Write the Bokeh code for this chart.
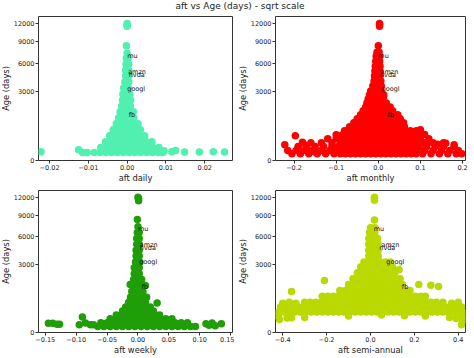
import numpy as np
from bokeh.plotting import figure
from bokeh.layouts import column, row
from bokeh.models import Range1d, FixedTicker, Label, CustomJSTickFormatter
from bokeh.embed import file_html
from bokeh.resources import INLINE
from bokeh.core.properties import value

FONT = "DejaVu Sans"
title_text = "aft vs Age (days) - sqrt scale"
age_ticks = [0, 3000, 6000, 9000, 12000]

tickers = ["mu", "amzn", "nvda", "googl", "fb"]
label_age = [7000, 5050, 4720, 3300, 1340]
daily_label_aft = [0.0, 0.00025, 0.0004, 0.0, 0.0004]
monthly_label_aft = [0.0, 0.005, 0.004, 0.008, 0.022]
weekly_label_aft = [0.0, 0.003, 0.003, 0.002, 0.006]
semi_label_aft = [0.015, 0.05, 0.04, 0.072, 0.143]

# (aft, age in days)
daily_points = [
    (-0.0085, 40), (-0.0070, 40), (-0.0055, 40), (-0.0040, 40), (-0.0025, 40), (-0.0010, 40), (0.0005, 40),
    (0.0020, 40), (0.0035, 40), (0.0050, 40), (0.0065, 40), (0.0080, 40), (0.0092, 40),
    (-0.0068, 106), (-0.0053, 106), (-0.0038, 106), (-0.0023, 106), (-0.0008, 106), (0.0007, 106),
    (0.0022, 106), (0.0037, 106), (0.0052, 106), (0.0067, 106), (0.0082, 106),
    (-0.0056, 227), (-0.0041, 227), (-0.0026, 227), (-0.0011, 227), (0.0004, 227), (0.0019, 227),
    (0.0034, 227), (0.0049, 227), (0.0064, 227),
    (-0.0045, 394), (-0.0030, 394), (-0.0015, 394), (0.0000, 394), (0.0015, 394), (0.0030, 394), (0.0045, 394),
    (-0.0036, 606), (-0.0022, 606), (-0.0008, 606), (0.0006, 606), (0.0020, 606), (0.0034, 606),
    (-0.0028, 863), (-0.0014, 863), (0.0000, 863), (0.0014, 863), (0.0028, 863),
    (-0.0022, 1165), (-0.0009, 1165), (0.0004, 1165), (0.0017, 1165),
    (-0.0018, 1513), (-0.0006, 1513), (0.0006, 1513), (0.0016, 1513),
    (-0.0014, 1906), (-0.0003, 1906), (0.0008, 1906),
    (-0.0012, 2345), (-0.0001, 2345), (0.0009, 2345),
    (-0.0011, 2828), (0.0000, 2828), (0.0007, 2828),
    (-0.0009, 3358), (0.0003, 3358),
    (-0.0006, 3932), (0.0004, 3932),
    (-0.0004, 4553), (0.0004, 4553),
    (-0.0004, 5218), (0.0004, 5218),
    (-0.0003, 5930), (0.0004, 5930),
    (-0.0002, 6684), (0.0003, 6684),
    (0.0000, 7350),
    (-0.0002, 8400), (0.0, 11500), (0.0, 11800), (0.0, 12000),
    (-0.0222, 50), (-0.0125, 75), (-0.0115, 40), (-0.0103, 40), (0.0095, 60), (0.0115, 50),
    (0.0125, 65), (0.0148, 45), (0.0186, 45), (0.0222, 50), (0.0251, 45),
]

monthly_points = [
    (-0.205, 30), (-0.185, 30), (-0.165, 30), (-0.145, 30), (-0.125, 30), (-0.105, 30), (-0.09, 30),
    (-0.078, 30), (-0.066, 30), (-0.054, 30), (-0.042, 30), (-0.030, 30), (-0.018, 30), (-0.006, 30),
    (0.006, 30), (0.018, 30), (0.030, 30), (0.042, 30), (0.054, 30), (0.066, 30), (0.078, 30), (0.09, 30),
    (0.105, 30), (0.125, 30), (0.145, 30), (0.165, 30), (0.185, 30), (0.198, 30),
    (-0.215, 63), (-0.195, 63), (-0.175, 63), (-0.155, 63), (-0.135, 63), (-0.115, 63), (-0.1, 63),
    (-0.088, 63), (-0.076, 63), (-0.064, 63), (-0.052, 63), (-0.040, 63), (-0.028, 63), (-0.016, 63),
    (-0.004, 63), (0.008, 63), (0.020, 63), (0.032, 63), (0.044, 63), (0.056, 63), (0.068, 63),
    (0.080, 63), (0.092, 63), (0.11, 63), (0.13, 63), (0.15, 63), (0.17, 63), (0.19, 63),
    (-0.19, 124), (-0.17, 124), (-0.15, 124), (-0.13, 124), (-0.11, 124), (-0.095, 124), (-0.083, 124),
    (-0.071, 124), (-0.059, 124), (-0.047, 124), (-0.035, 124), (-0.023, 124), (-0.011, 124), (0.001, 124),
    (0.013, 124), (0.025, 124), (0.037, 124), (0.049, 124), (0.061, 124), (0.073, 124), (0.085, 124),
    (0.097, 124), (0.115, 124), (0.135, 124), (0.155, 124), (0.18, 124),
    (-0.16, 204), (-0.135, 204), (-0.11, 204), (-0.09, 204), (-0.077, 204), (-0.064, 204), (-0.051, 204),
    (-0.038, 204), (-0.025, 204), (-0.012, 204), (0.001, 204), (0.014, 204), (0.027, 204), (0.040, 204),
    (0.053, 204), (0.066, 204), (0.079, 204), (0.092, 204), (0.11, 204), (0.13, 204), (0.155, 204),
    (-0.12, 305), (-0.1, 305), (-0.085, 305), (-0.072, 305), (-0.059, 305), (-0.046, 305), (-0.033, 305),
    (-0.020, 305), (-0.007, 305), (0.006, 305), (0.019, 305), (0.032, 305), (0.045, 305), (0.058, 305),
    (0.071, 305), (0.084, 305), (0.1, 305), (0.12, 305),
    (-0.1, 426), (-0.085, 426), (-0.072, 426), (-0.059, 426), (-0.046, 426), (-0.033, 426), (-0.020, 426),
    (-0.007, 426), (0.006, 426), (0.019, 426), (0.032, 426), (0.045, 426), (0.058, 426), (0.071, 426),
    (0.085, 426), (0.1, 426),
    (-0.08, 567), (-0.067, 567), (-0.054, 567), (-0.041, 567), (-0.028, 567), (-0.015, 567), (-0.002, 567),
    (0.011, 567), (0.024, 567), (0.037, 567), (0.050, 567), (0.063, 567), (0.076, 567), (0.09, 567),
    (-0.068, 729), (-0.055, 729), (-0.042, 729), (-0.029, 729), (-0.016, 729), (-0.003, 729), (0.010, 729),
    (0.023, 729), (0.036, 729), (0.049, 729), (0.062, 729),
    (-0.058, 910), (-0.045, 910), (-0.032, 910), (-0.019, 910), (-0.006, 910), (0.007, 910), (0.020, 910),
    (0.033, 910), (0.046, 910), (0.06, 910),
    (-0.05, 1111), (-0.037, 1111), (-0.024, 1111), (-0.011, 1111), (0.002, 1111), (0.015, 1111),
    (0.028, 1111), (0.041, 1111), (0.052, 1111),
    (-0.042, 1333), (-0.029, 1333), (-0.016, 1333), (-0.003, 1333), (0.010, 1333), (0.023, 1333),
    (0.036, 1333), (0.046, 1333),
    (-0.036, 1575), (-0.024, 1575), (-0.012, 1575), (0.0, 1575), (0.012, 1575), (0.024, 1575), (0.034, 1575),
    (-0.03, 1837), (-0.018, 1837), (-0.006, 1837), (0.006, 1837), (0.018, 1837), (0.028, 1837),
    (-0.027, 2120), (-0.015, 2120), (-0.003, 2120), (0.009, 2120), (0.019, 2120),
    (-0.024, 2422), (-0.012, 2422), (0.0, 2422), (0.012, 2422),
    (-0.021, 2745), (-0.009, 2745), (0.003, 2745), (0.013, 2745),
    (-0.018, 3088), (-0.006, 3088), (0.006, 3088),
    (-0.013, 3544), (-0.002, 3544), (0.007, 3544),
    (-0.01, 4033), (0.0, 4033), (0.006, 4033),
    (-0.009, 4553), (0.004, 4553),
    (-0.008, 5104), (0.004, 5104),
    (-0.007, 5687), (0.004, 5687),
    (-0.006, 6301), (0.003, 6301),
    (-0.005, 6947), (0.003, 6947),
    (-0.003, 7490), (0.002, 7490),
    (0.0, 8400), (0.003, 11500), (0.003, 11800), (0.003, 12000),
    (-0.222, 160), (-0.197, 390), (-0.19, 120), (-0.18, 210), (-0.172, 150), (-0.165, 60), (-0.15, 45),
    (0.18, 160), (0.16, 190), (0.14, 170), (0.12, 220), (0.1, 600), (0.11, 430),
]

weekly_points = [
    (-0.065, 23), (-0.055, 23), (-0.045, 23), (-0.035, 23), (-0.025, 23), (-0.015, 23), (-0.005, 23),
    (0.005, 23), (0.015, 23), (0.025, 23), (0.035, 23), (0.045, 23), (0.055, 23), (0.065, 23),
    (0.075, 23), (0.085, 23), (0.093, 23),
    (-0.06, 63), (-0.05, 63), (-0.04, 63), (-0.03, 63), (-0.02, 63), (-0.01, 63), (0.0, 63), (0.01, 63),
    (0.02, 63), (0.03, 63), (0.04, 63), (0.05, 63), (0.06, 63), (0.07, 63), (0.08, 63),
    (-0.045, 124), (-0.035, 124), (-0.025, 124), (-0.015, 124), (-0.005, 124), (0.005, 124),
    (0.015, 124), (0.025, 124), (0.035, 124), (0.045, 124), (0.055, 124),
    (-0.035, 204), (-0.025, 204), (-0.015, 204), (-0.005, 204), (0.005, 204), (0.015, 204),
    (0.025, 204), (0.035, 204),
    (-0.025, 305), (-0.015, 305), (-0.005, 305), (0.005, 305), (0.015, 305), (0.025, 305),
    (-0.02, 426), (-0.01, 426), (0.0, 426), (0.01, 426), (0.02, 426),
    (-0.015, 606), (-0.006, 606), (0.003, 606), (0.012, 606),
    (-0.012, 817), (-0.003, 817), (0.006, 817), (0.014, 817),
    (-0.01, 1111), (-0.001, 1111), (0.008, 1111),
    (-0.008, 1452), (0.0, 1452), (0.008, 1452),
    (-0.007, 1837), (0.001, 1837), (0.006, 1837),
    (-0.006, 2268), (0.002, 2268),
    (-0.006, 2745), (0.002, 2745),
    (-0.004, 3266), (0.003, 3266),
    (-0.003, 3834), (0.002, 3834),
    (-0.003, 4446), (0.002, 4446),
    (-0.002, 5104), (0.002, 5104),
    (-0.002, 5807), (0.002, 5807),
    (-0.001, 6556), (0.002, 6556),
    (0.0, 7350),
    (-0.001, 8400), (0.001, 11400), (0.001, 11800), (0.0, 12000),
    (-0.145, 55), (-0.138, 55), (-0.131, 45), (-0.127, 45), (-0.095, 40), (-0.09, 160), (-0.085, 60),
    (-0.077, 40), (-0.072, 40), (0.11, 50), (0.115, 35), (0.12, 60), (0.125, 30), (0.135, 50),
    (-0.0126, 1513), (0.031, 570), (0.012, 1450), (0.009, 1400),
]

semi_points = [
    (-0.42, 278), (-0.395, 278), (-0.37, 278), (-0.345, 278), (-0.32, 278), (-0.295, 278), (-0.27, 278),
    (-0.245, 278), (-0.22, 278), (-0.195, 278), (-0.17, 278), (-0.145, 278), (-0.12, 278), (-0.095, 278),
    (-0.07, 278), (-0.045, 278), (-0.02, 278), (0.005, 278), (0.03, 278), (0.055, 278), (0.08, 278),
    (0.105, 278), (0.13, 278), (0.155, 278), (0.18, 278), (0.205, 278), (0.23, 278), (0.255, 278),
    (0.28, 278), (0.305, 278), (0.33, 278), (0.355, 278), (0.38, 278), (0.405, 278), (0.42, 278),
    (-0.41, 426), (-0.385, 426), (-0.36, 426), (-0.335, 426), (-0.31, 426), (-0.285, 426), (-0.26, 426),
    (-0.235, 426), (-0.21, 426), (-0.185, 426), (-0.16, 426), (-0.135, 426), (-0.11, 426), (-0.085, 426),
    (-0.06, 426), (-0.035, 426), (-0.01, 426), (0.015, 426), (0.04, 426), (0.065, 426), (0.09, 426),
    (0.115, 426), (0.14, 426), (0.165, 426), (0.19, 426), (0.215, 426), (0.24, 426), (0.265, 426),
    (0.29, 426), (0.315, 426), (0.34, 426), (0.365, 426), (0.39, 426), (0.415, 426),
    (-0.42, 165), (-0.415, 110), (-0.38, 140), (-0.36, 142), (-0.30, 150), (-0.10, 180), (0.05, 200),
    (0.155, 182), (0.25, 180), (0.36, 150), (0.39, 130), (0.42, 165), (0.42, 90), (0.415, 40),
    (-0.40, 560), (-0.37, 600), (-0.34, 560), (0.37, 560), (0.40, 600),
    (-0.30, 606), (-0.275, 606), (-0.25, 606), (-0.225, 606), (-0.2, 606), (-0.175, 606), (-0.15, 606),
    (-0.125, 606), (-0.1, 606), (-0.075, 606), (-0.05, 606), (-0.025, 606), (0.0, 606), (0.025, 606),
    (0.05, 606), (0.075, 606), (0.1, 606), (0.125, 606), (0.15, 606), (0.175, 606), (0.2, 606),
    (0.225, 606), (0.25, 606), (0.275, 606), (0.3, 606), (0.33, 606),
    (-0.22, 862), (-0.195, 862), (-0.17, 862), (-0.145, 862), (-0.12, 862), (-0.095, 862), (-0.07, 862),
    (-0.045, 862), (-0.02, 862), (0.005, 862), (0.03, 862), (0.055, 862), (0.08, 862), (0.105, 862),
    (0.13, 862), (0.155, 862), (0.18, 862), (0.205, 862), (0.23, 862), (0.25, 862),
    (-0.14, 1165), (-0.115, 1165), (-0.09, 1165), (-0.065, 1165), (-0.04, 1165), (-0.015, 1165),
    (0.01, 1165), (0.035, 1165), (0.06, 1165), (0.085, 1165), (0.11, 1165), (0.135, 1165), (0.16, 1165),
    (0.18, 1165),
    (-0.10, 1513), (-0.075, 1513), (-0.05, 1513), (-0.025, 1513), (0.0, 1513), (0.025, 1513),
    (0.05, 1513), (0.075, 1513), (0.1, 1513), (0.125, 1513), (0.145, 1513),
    (-0.08, 1906), (-0.055, 1906), (-0.03, 1906), (-0.005, 1906), (0.02, 1906), (0.045, 1906),
    (0.07, 1906), (0.095, 1906), (0.12, 1906), (0.135, 1906),
    (-0.06, 2345), (-0.035, 2345), (-0.01, 2345), (0.015, 2345), (0.04, 2345), (0.065, 2345),
    (0.09, 2345), (0.11, 2345),
    (-0.045, 2828), (-0.02, 2828), (0.005, 2828), (0.03, 2828), (0.055, 2828), (0.08, 2828), (0.10, 2828),
    (-0.03, 3266), (-0.005, 3266), (0.02, 3266), (0.045, 3266), (0.07, 3266), (0.09, 3266),
    (-0.008, 3834), (0.015, 3834), (0.035, 3834),
    (-0.008, 4446), (0.015, 4446), (0.035, 4446),
    (-0.008, 5104), (0.015, 5104), (0.035, 5104),
    (-0.008, 5807), (0.012, 5807), (0.032, 5807),
    (-0.004, 6556), (0.02, 6556),
    (0.0, 7206), (0.02, 7206),
    (0.018, 8300), (0.018, 11500), (0.018, 11800), (0.018, 12000),
    (-0.36, 1110), (-0.21, 1770), (0.13, 2580), (0.22, 1513), (0.275, 1470), (0.31, 1390),
]

panels = [
    dict(points=daily_points, color="#50f0b0", xlabel="aft daily", xticks=[-0.02, -0.01, 0.0, 0.01, 0.02],
         digits=2, xr=(-0.02285, 0.02715), label_x=daily_label_aft),
    dict(points=monthly_points, color="#ff0000", xlabel="aft monthly", xticks=[-0.2, -0.1, 0.0, 0.1, 0.2],
         digits=1, xr=(-0.244, 0.207), label_x=monthly_label_aft),
    dict(points=weekly_points, color="#1f9e08", xlabel="aft weekly",
         xticks=[-0.15, -0.10, -0.05, 0.0, 0.05, 0.10, 0.15], digits=2, xr=(-0.161, 0.153),
         label_x=weekly_label_aft),
    dict(points=semi_points, color="#b9d900", xlabel="aft semi-annual", xticks=[-0.4, -0.2, 0.0, 0.2, 0.4],
         digits=1, xr=(-0.433, 0.433), label_x=semi_label_aft),
]

# layout: (width, height, border left, right, top, bottom)
geom = [
    (237, 174, 37, 2, 5, 24),
    (237, 174, 37, 6, 5, 24),
    (237, 172, 36, 2, 5, 23),
    (237, 172, 37, 6, 5, 23),
]


def make_panel(cfg, g):
    w, h, bl, br, bt, bb = g
    xs = np.array([pt[0] for pt in cfg["points"]])
    ages = np.array([pt[1] for pt in cfg["points"]], dtype=float)
    p = figure(width=w, height=h, output_backend="svg", toolbar_location=None,
               x_range=Range1d(*cfg["xr"]), y_range=Range1d(0, 115.1),
               min_border_left=bl, min_border_right=br, min_border_top=bt, min_border_bottom=bb)
    p.scatter(xs, np.sqrt(ages), size=7.5, fill_color=cfg["color"], line_color=None)
    p.text(x=cfg["label_x"], y=np.sqrt(np.array(label_age, dtype=float)), text=tickers,
           text_font=value(FONT), text_font_size="6.5px", text_color="#111111",
           text_align="left", text_baseline="alphabetic")
    p.grid.visible = False
    p.outline_line_color = "#333333"
    p.outline_line_width = 1
    p.background_fill_color = "white"
    p.xaxis.ticker = FixedTicker(ticks=cfg["xticks"])
    p.xaxis.formatter = CustomJSTickFormatter(
        args=dict(d=cfg["digits"]),
        code="return (tick < -1e-12 ? '\u2212' : '') + Math.abs(tick).toFixed(d);")
    p.yaxis.ticker = FixedTicker(ticks=[float(np.sqrt(a)) for a in age_ticks])
    p.yaxis.formatter = CustomJSTickFormatter(code="return String(Math.round(tick * tick));")
    p.xaxis.axis_label = cfg["xlabel"]
    p.yaxis.axis_label = "Age (days)"
    for ax in (p.xaxis[0], p.yaxis[0]):
        ax.axis_line_color = None
        ax.major_tick_line_color = "#333333"
        ax.major_tick_out = 3
        ax.major_tick_in = 0
        ax.minor_tick_line_color = None
        ax.major_label_text_font = FONT
        ax.major_label_text_font_size = "6.5px"
        ax.major_label_text_color = "#222222"
        ax.major_label_standoff = 1
        ax.axis_label_text_font = FONT
        ax.axis_label_text_font_size = "8.3px"
        ax.axis_label_text_font_style = "normal"
        ax.axis_label_text_color = "#222222"
        ax.axis_label_standoff = 0
    return p


figs = [make_panel(c, g) for c, g in zip(panels, geom)]

tfig = figure(width=474, height=12, output_backend="svg", toolbar_location=None,
              x_range=Range1d(0, 474), y_range=Range1d(0, 12), min_border=0,
              x_axis_type=None, y_axis_type=None, outline_line_color=None)
tfig.grid.visible = False
tfig.add_layout(Label(x=242.5, y=6, text=title_text, text_align="center", text_baseline="middle",
                      text_font=FONT, text_font_size="9px", text_color="#222222"))

layout = column(tfig, row(figs[0], figs[1]), row(figs[2], figs[3]), margin=(-1, 0, 0, -3))

open("out.html", "w").write(file_html(layout, INLINE))
